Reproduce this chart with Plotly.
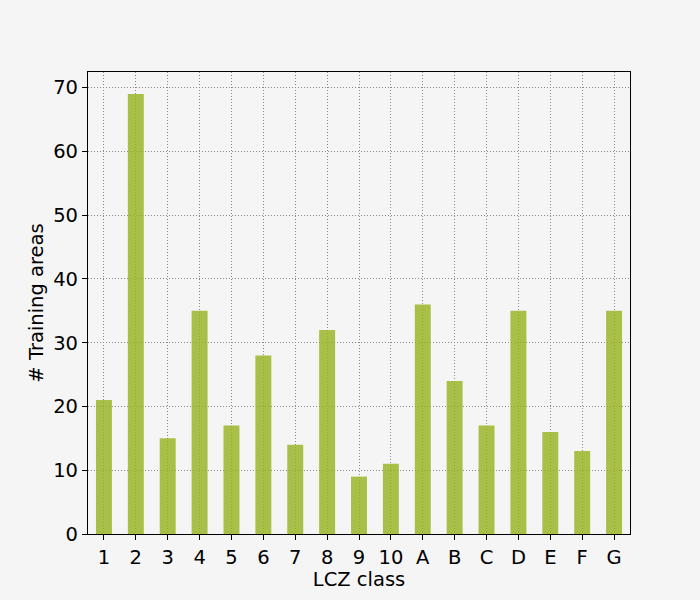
import plotly.graph_objects as go

categories = ["1", "2", "3", "4", "5", "6", "7", "8", "9", "10", "A", "B", "C", "D", "E", "F", "G"]
counts = [21, 69, 15, 35, 17, 28, 14, 32, 9, 11, 36, 24, 17, 35, 16, 13, 35]

fig = go.Figure(go.Bar(
    x=categories, y=counts, width=0.5,
    marker=dict(color="rgba(149,178,29,0.8)", line=dict(width=0)),
))

axis_common = dict(
    showline=True, linecolor="black", linewidth=1.2, mirror=True,
    ticks="outside", ticklen=5, tickwidth=1.2, tickcolor="black",
    showgrid=True, gridcolor="#888888", gridwidth=1, griddash="1px,2px",
    tickfont=dict(family="DejaVu Sans", size=19.5, color="black"),
    zeroline=False,
)

fig.update_layout(
    width=700, height=600,
    margin=dict(l=88, r=70, t=72, b=66),
    paper_bgcolor="#f5f5f5", plot_bgcolor="#f5f5f5",
    showlegend=False,
    font=dict(family="DejaVu Sans", size=19.5, color="black"),
    xaxis=dict(**axis_common, range=[-0.5, 16.5],
               title=dict(text="LCZ class", font=dict(size=19.5), standoff=3)),
    yaxis=dict(**axis_common, range=[0, 72.45], tickvals=[0, 10, 20, 30, 40, 50, 60, 70],
               title=dict(text="# Training areas", font=dict(size=19.5), standoff=4)),
)

fig.write_html("out.html", config={"displayModeBar": False},
               post_script="document.body.style.margin='0';document.body.style.overflow='hidden';")
